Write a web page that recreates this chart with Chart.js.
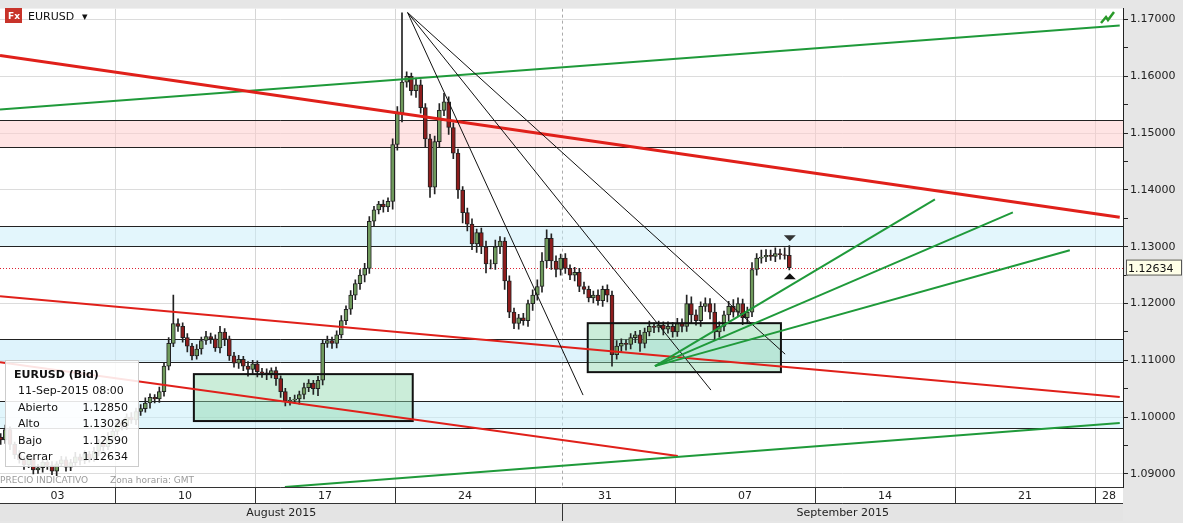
<!DOCTYPE html>
<html><head><meta charset="utf-8">
<script src="https://cdn.jsdelivr.net/npm/chart.js@4.4.1/dist/chart.umd.min.js"></script>
<style>html,body{margin:0;padding:0;background:#e6e6e6;overflow:hidden}#w{width:1183px;height:523px;position:relative}</style>
</head><body><div id="w"><canvas id="c" width="1183" height="523"></canvas></div>
<script>
// 4-hour slots (6 per trading day, week-ends skipped); first slot index:
const firstSlot = 5;
const firstOpen = 1.0965;
const closes = [
1.0960,1.0978,1.0952,1.0934,1.0925,1.0916,1.0928,1.0907,1.0911,1.0921,
1.0915,1.0905,1.0918,1.0925,1.0912,1.0920,1.0930,1.0924,1.0935,1.0928,
1.0940,1.0955,1.0948,1.0965,1.0975,1.0990,1.0985,1.1000,1.0995,1.1010,
1.1015,1.1025,1.1035,1.1032,1.1045,1.1090,1.1130,1.1165,1.1160,1.1140,
1.1125,1.1108,1.1120,1.1135,1.1142,1.1138,1.1122,1.1150,1.1138,1.1108,
1.1095,1.1102,1.1090,1.1084,1.1094,1.1080,1.1078,1.1076,1.1082,1.1068,
1.1045,1.1028,1.1030,1.1032,1.1040,1.1052,1.1060,1.1050,1.1065,1.1130,
1.1135,1.1130,1.1145,1.1170,1.1190,1.1215,1.1235,1.1250,1.1262,1.1345,
1.1365,1.1375,1.1370,1.1380,1.1480,1.1535,1.1590,1.1600,1.1575,1.1585,
1.1545,1.1490,1.1405,1.1485,1.1540,1.1555,1.1510,1.1465,1.1400,1.1360,
1.1340,1.1305,1.1325,1.1300,1.1270,1.1270,1.1300,1.1310,1.1240,1.1185,
1.1165,1.1175,1.1170,1.1200,1.1215,1.1230,1.1275,1.1315,1.1275,1.1260,
1.1280,1.1262,1.1250,1.1255,1.1230,1.1225,1.1210,1.1215,1.1205,1.1225,
1.1215,1.1110,1.1125,1.1130,1.1128,1.1140,1.1145,1.1130,1.1150,1.1160,
1.1158,1.1162,1.1155,1.1160,1.1150,1.1165,1.1160,1.1200,1.1180,1.1170,
1.1195,1.1200,1.1185,1.1150,1.1160,1.1180,1.1195,1.1185,1.1200,1.1175,
1.1185,1.1260,1.1280,1.1282,1.1285,1.1283,1.1288,1.1286,1.12850,1.12634];
// upper / lower wick length in pips
const wickUp = [
6,8,5,4,7,5,6,4,6,5, 5,7,4,6,5,6,8,5,6,5, 7,6,5,8,6,7,5,6,8,6,
7,9,6,5,8,6,10,50,8,6, 7,5,8,6,9,6,7,10,6,5, 6,7,5,8,6,5,6,7,5,6,
5,6,5,7,6,8,6,5,7,6, 8,6,7,9,6,8,7,10,9,8, 6,5,7,6,10,12,122,8,6,12,
9,7,8,10,12,15,9,8,7,6, 8,9,6,8,10,7,12,8,6,9, 7,6,8,6,9,12,15,15,8,9,
7,8,6,9,7,8,6,7,9,6, 8,7,10,8,6,7,6,8,7,9, 6,7,6,8,7,9,8,15,12,9,
8,10,9,15,8,7,9,12,10,8, 9,12,8,12,10,9,10,8,12,17];
const wickDn = [
8,6,9,7,6,8,5,7,6,8, 7,6,8,5,7,6,5,8,6,7, 6,8,7,5,9,6,8,7,6,8,
7,6,9,7,6,8,7,6,9,8, 10,7,6,9,7,8,6,9,12,8, 7,9,8,12,7,9,8,10,7,12,
10,8,7,6,9,8,7,10,12,8, 7,9,8,6,7,9,8,10,12,9, 8,7,9,8,14,10,15,9,8,12,
10,15,18,12,10,9,12,10,15,18, 12,10,15,12,16,9,10,12,15,10, 9,10,8,10,12,9,10,12,15,13,
10,9,8,10,9,8,7,9,8,10, 12,20,8,9,10,8,9,14,8,7, 9,8,10,7,9,8,10,9,14,8,
10,9,12,15,9,8,10,9,8,12, 9,8,10,9,8,7,9,8,7,4];

const weekLabels = ["03","10","17","24","31","07","14","21","28"];
const monthLabels = ["August 2015","September 2015"];
const infoRows = [["Abierto","1.12850"],["Alto","1.13026"],["Bajo","1.12590"],["Cerrar","1.12634"]];
const lastPrice = 1.12634;
// horizontal zones [top, bottom, fill]
const zones = [[1.15224,1.14750,'rgba(255,205,205,0.55)'],[1.13360,1.13009,'rgba(200,238,250,0.5)'],
               [1.11374,1.10969,'rgba(200,235,250,0.6)'],[1.10284,1.09809,'rgba(200,238,250,0.55)']];
const boxes = [[46.4,93.3,1.10758,1.09932],[130.8,172.2,1.11655,1.10793]];
// trend lines [s1,p1,s2,p2,color,width]
const lines = [
 [4.86,1.15418,244.8,1.16895,'#1f9a3a',2],
 [4.86,1.16367,244.8,1.13519,'#e0201a',3],
 [4.86,1.12130,244.8,1.10354,'#e0201a',2],
 [4.86,1.10969,150.1,1.09317,'#e0201a',2],
 [65.9,1.08771,244.8,1.09897,'#1f9a3a',2],
 [92.2,1.17123,129.8,1.10389,'#111',1],
 [92.2,1.17123,157.2,1.10477,'#111',1],
 [92.2,1.17123,173.1,1.11110,'#111',1],
 [145.2,1.10899,205.2,1.13835,'#1f9a3a',2],
 [145.2,1.10899,221.9,1.13607,'#1f9a3a',2],
 [145.2,1.10899,234.1,1.12939,'#1f9a3a',2]];

const bodies=[], wicks=[], colors=[];
let prev = firstOpen;
closes.forEach((c,i)=>{
  const s=firstSlot+i, o=prev;
  const hi=Math.max(o,c)+wickUp[i]*0.0001, lo=Math.min(o,c)-wickDn[i]*0.0001;
  let a=o,b=c; if(Math.abs(a-b)<0.00004){a-=0.00002;b+=0.00002;}
  bodies.push({x:s,y:[a,b]}); wicks.push({x:s,y:[lo,hi]});
  colors.push(c>=o?'#6f9a5c':'#8e1d1d'); prev=c;
});

const deco = {
 id:'deco',
 beforeDatasetsDraw(ch){
  const {ctx,chartArea:a,scales:{x,y}}=ch;
  ctx.save();
  ctx.beginPath();ctx.rect(a.left,a.top,a.right-a.left,a.bottom-a.top);ctx.clip();
  ctx.strokeStyle='#d6d6d6';ctx.lineWidth=1;
  for(let s=29.5;s<250;s+=30){const px=Math.round(x.getPixelForValue(s))+0.5;ctx.beginPath();ctx.moveTo(px,a.top);ctx.lineTo(px,a.bottom);ctx.stroke();}
  ctx.setLineDash([3,3]);ctx.strokeStyle='#aaa';
  const dx=Math.round(x.getPixelForValue(125.3))+0.5;ctx.beginPath();ctx.moveTo(dx,a.top);ctx.lineTo(dx,a.bottom);ctx.stroke();
  ctx.setLineDash([]);
  zones.forEach(([t,b,f])=>{const yt=Math.round(y.getPixelForValue(t))+0.5,yb=Math.round(y.getPixelForValue(b))+0.5;
    ctx.fillStyle=f;ctx.fillRect(a.left,yt,a.right-a.left,yb-yt);
    ctx.strokeStyle='#222';ctx.lineWidth=1;[yt,yb].forEach(v=>{ctx.beginPath();ctx.moveTo(a.left,v);ctx.lineTo(a.right,v);ctx.stroke();});});
  boxes.forEach(([s1,s2,p1,p2])=>{const x1=x.getPixelForValue(s1),x2=x.getPixelForValue(s2),y1=y.getPixelForValue(p1),y2=y.getPixelForValue(p2);
    ctx.fillStyle='rgba(140,215,170,0.45)';ctx.fillRect(x1,y1,x2-x1,y2-y1);});
  const ly=Math.round(y.getPixelForValue(lastPrice))+0.5;
  ctx.strokeStyle='#d23';ctx.setLineDash([1,2]);ctx.beginPath();ctx.moveTo(a.left,ly);ctx.lineTo(a.right,ly);ctx.stroke();ctx.setLineDash([]);
  ctx.restore();
 },
 afterDatasetsDraw(ch){
  const {ctx,chartArea:a,scales:{x,y}}=ch;
  ctx.save();
  ctx.beginPath();ctx.rect(a.left,a.top,a.right-a.left,a.bottom-a.top);ctx.clip();
  boxes.forEach(([s1,s2,p1,p2])=>{const x1=x.getPixelForValue(s1),x2=x.getPixelForValue(s2),y1=y.getPixelForValue(p1),y2=y.getPixelForValue(p2);
    ctx.strokeStyle='#111';ctx.lineWidth=2;ctx.strokeRect(x1,y1,x2-x1,y2-y1);});
  lines.forEach(([s1,p1,s2,p2,c,w])=>{ctx.strokeStyle=c;ctx.lineWidth=w;ctx.beginPath();
    ctx.moveTo(x.getPixelForValue(s1),y.getPixelForValue(p1));ctx.lineTo(x.getPixelForValue(s2),y.getPixelForValue(p2));ctx.stroke();});
  const mx=x.getPixelForValue(174.1),my1=y.getPixelForValue(1.13149),my2=y.getPixelForValue(1.12482);
  ctx.fillStyle='#333';ctx.beginPath();ctx.moveTo(mx-6,my1-3);ctx.lineTo(mx+6,my1-3);ctx.lineTo(mx,my1+3);ctx.fill();
  ctx.fillStyle='#111';ctx.beginPath();ctx.moveTo(mx-6,my2+3);ctx.lineTo(mx+6,my2+3);ctx.lineTo(mx,my2-3);ctx.fill();
  ctx.strokeStyle='#2a9a2a';ctx.lineWidth=2.5;ctx.beginPath();ctx.moveTo(1101,23);ctx.lineTo(1106,17);ctx.lineTo(1108,20);ctx.lineTo(1114,12);ctx.stroke();
  ctx.restore();
  ctx.save();
  ctx.fillStyle='#c8332a';ctx.fillRect(5,8,17,15);ctx.fillStyle='#fff';ctx.font='bold 9px "DejaVu Sans"';ctx.fillText('Fx',8,19);
  ctx.fillStyle='#111';ctx.font='11px "DejaVu Sans"';ctx.fillText('EURUSD',28,20);ctx.fillText('▾',82,20);
  ctx.fillStyle='rgba(255,255,255,0.88)';ctx.fillRect(5,360,133,106);ctx.strokeStyle='#ccc';ctx.lineWidth=1;ctx.strokeRect(5.5,360.5,133,106);
  ctx.fillStyle='#111';ctx.font='bold 11px "DejaVu Sans"';ctx.fillText('EURUSD (Bid)',14,378);
  ctx.font='11px "DejaVu Sans"';ctx.fillText('11-Sep-2015 08:00',18,394);
  infoRows.forEach(([k,v],i)=>{const yy=411+i*16.3;ctx.textAlign='left';ctx.fillText(k,18,yy);ctx.textAlign='right';ctx.fillText(v,128,yy);});
  ctx.textAlign='left';ctx.fillStyle='rgba(120,120,120,0.75)';ctx.font='9px "DejaVu Sans"';
  ctx.fillText('PRECIO INDICATIVO',0,483);ctx.fillText('Zona horaria: GMT',110,483);
  ctx.fillStyle='#fff';ctx.fillRect(0,a.bottom,a.right,16);
  ctx.fillStyle='#e4e4e4';ctx.fillRect(0,a.bottom+16,a.right,18);
  ctx.strokeStyle='#333';ctx.lineWidth=1;
  [a.bottom+0.5,a.bottom+16.5].forEach(v=>{ctx.beginPath();ctx.moveTo(0,v);ctx.lineTo(a.right,v);ctx.stroke();});
  ctx.fillStyle='#222';ctx.font='11px "DejaVu Sans"';ctx.textAlign='center';
  const wk=[];for(let s=-0.5;s<280;s+=30)wk.push(x.getPixelForValue(s));
  wk.forEach((px,i)=>{ if(i>0&&px<a.right){ctx.beginPath();ctx.moveTo(Math.round(px)+0.5,a.bottom);ctx.lineTo(Math.round(px)+0.5,a.bottom+16);ctx.stroke();}
    if(i<weekLabels.length){const l=Math.max(0,px),r=Math.min(a.right,wk[i+1]);ctx.fillText(weekLabels[i],(l+r)/2,a.bottom+12);} });
  const mb=Math.round(x.getPixelForValue(125.3))+0.5;
  ctx.beginPath();ctx.moveTo(mb,a.bottom+16);ctx.lineTo(mb,a.bottom+34);ctx.stroke();
  ctx.fillText(monthLabels[0],mb/2,a.bottom+29);ctx.fillText(monthLabels[1],(mb+a.right)/2,a.bottom+29);
  const ly=y.getPixelForValue(lastPrice);
  ctx.fillStyle='#ffffe8';ctx.fillRect(a.right+3,ly-8,56,16);ctx.strokeStyle='#555';ctx.strokeRect(a.right+3.5,ly-7.5,55,15);
  ctx.fillStyle='#111';ctx.textAlign='left';ctx.fillText(lastPrice.toFixed(5),a.right+5,ly+4);
  ctx.restore();
 }
};

const bgPlugin={id:'bg',beforeDraw(ch){const {ctx,chartArea:a}=ch;ctx.save();ctx.fillStyle='#e6e6e6';ctx.fillRect(0,0,ch.width,ch.height);ctx.fillStyle='#fff';ctx.fillRect(a.left,a.top,a.right-a.left,a.bottom-a.top);ctx.restore();}};

new Chart(document.getElementById('c'),{
 type:'bar',
 data:{datasets:[
  {data:bodies,backgroundColor:colors,borderColor:'#222',borderWidth:1,borderSkipped:false,barThickness:4,grouped:false,order:1},
  {data:wicks,backgroundColor:'#222',borderWidth:0,barThickness:1,grouped:false,order:2}
 ]},
 options:{responsive:false,animation:false,events:[],
  layout:{padding:{top:8,bottom:36,left:0,right:0}},
  plugins:{legend:{display:false},tooltip:{enabled:false}},
  scales:{
   x:{type:'linear',min:4.857,max:245.5,offset:false,bounds:'data',display:false},
   y:{position:'right',min:1.08771,max:1.17193,
      afterFit(s){s.width=60;},
      afterBuildTicks(s){const t=[];for(let v=1.09;v<=1.1701;v+=0.005)t.push({value:+v.toFixed(3)});s.ticks=t;},
      border:{color:'#222'},
      grid:{color:c=>Math.round(c.tick.value*1000)%10===0?'#dcdcdc':'rgba(0,0,0,0)',tickColor:'#222',tickLength:5,drawOnChartArea:true},
      ticks:{color:'#222',font:{family:'DejaVu Sans',size:11},padding:2,
        callback:v=>Math.round(v*1000)%10===0?v.toFixed(5):''}}
  }},
 plugins:[bgPlugin,deco]
});
</script></body></html>
